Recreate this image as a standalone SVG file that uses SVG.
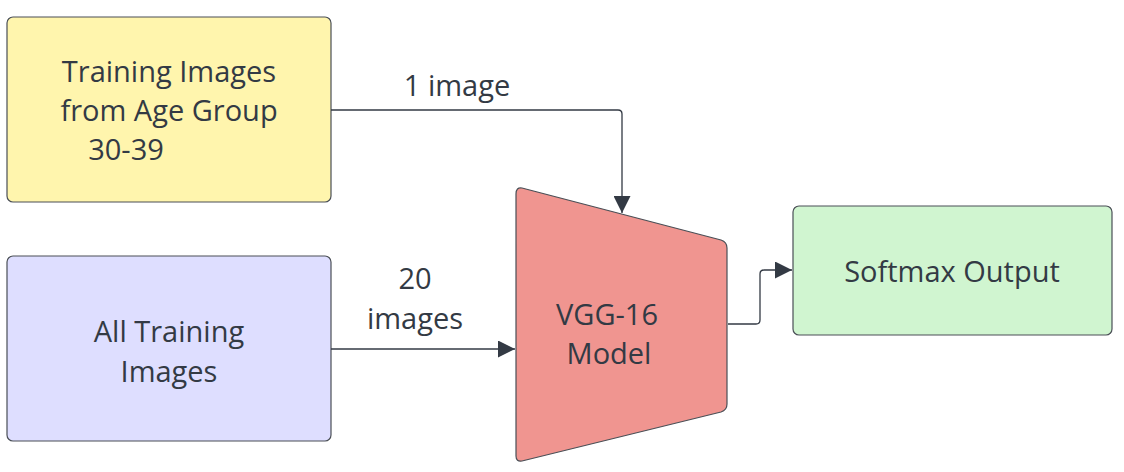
<svg xmlns="http://www.w3.org/2000/svg" width="1124" height="472" viewBox="0 0 1124 472">
<style>
text{font-family:"Open Sans","Liberation Sans",sans-serif;font-size:29px;fill:#333a44;text-anchor:middle;font-weight:500}
.c{fill:none;stroke:#333a44;stroke-width:1.3}
.b{stroke:#4a4f56;stroke-width:1.2}
</style>
<defs><marker id="a" viewBox="0 0 10 10" refX="10" refY="5" markerWidth="17" markerHeight="17" markerUnits="userSpaceOnUse" orient="auto"><path d="M0,0L10,5L0,10z" fill="#333a44"/></marker></defs>
<rect width="1124" height="472" fill="#fff"/>
<g id="train3039"><rect class="b" x="7" y="17" width="324" height="185" rx="6" fill="#fff5ad"/>
<text x="169" y="82">Training Images</text><text x="169" y="121">from Age Group</text><text x="126" y="160">30-39</text></g>
<g id="alltrain"><rect class="b" x="7" y="256" width="324" height="185" rx="6" fill="#dedeff"/>
<text x="169" y="342">All Training</text><text x="169" y="382">Images</text></g>
<g id="vgg"><path class="b" d="M522,188 L721,240 Q727,242 727,248 L727,404 Q727,410 721,412 L522,461 Q516,462 516,456 L516,194 Q516,187 522,188Z" fill="#f09590"/>
<text x="607" y="325">VGG-16</text><text x="609" y="364">Model</text></g>
<g id="softmax"><rect class="b" x="793" y="206" width="319" height="129" rx="6" fill="#d0f5d0"/>
<text x="952" y="282">Softmax Output</text></g>
<g id="connectors">
<path class="c" d="M331,110 H618 Q622,110 622,114 V213" marker-end="url(#a)"/>
<path class="c" d="M331,349 H515" marker-end="url(#a)"/>
<path class="c" d="M728,324 H756 Q760,324 760,320 V274 Q760,270 764,270 H792" marker-end="url(#a)"/>
<text x="457" y="96">1 image</text>
<text x="415" y="289">20</text><text x="415" y="329">images</text>
</g>
</svg>
